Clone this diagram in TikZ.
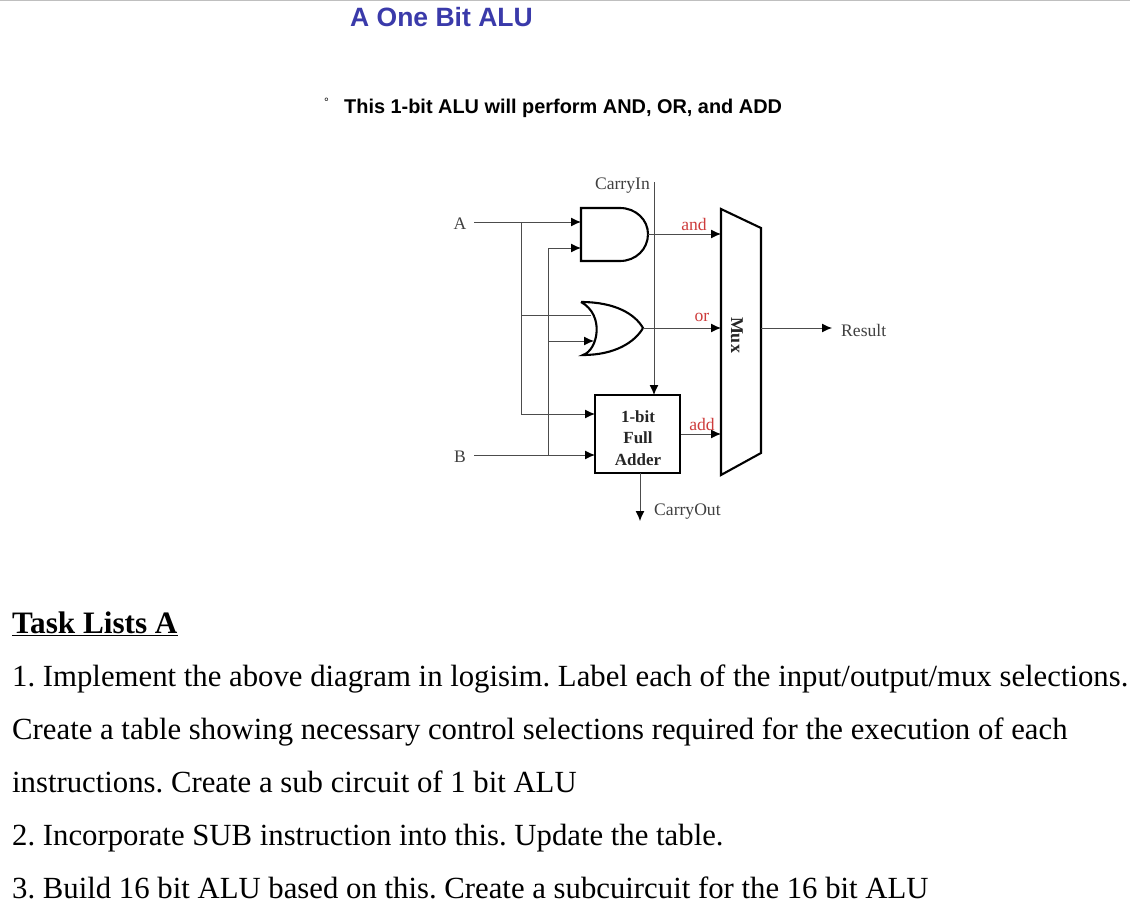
\documentclass[tikz,border=0pt]{standalone}
\usepackage{fontspec}
\setmainfont{Liberation Serif}
\newfontfamily\headfont{Liberation Sans}
\usetikzlibrary{arrows.meta}

\definecolor{headblue}{RGB}{58,58,170}
\definecolor{tagred}{RGB}{205,60,60}

\tikzset{
	wire/.style={draw=black!70, line width=1pt},
	feed/.style={wire, -{Latex[length=10pt,width=9pt,black]}},
	gate/.style={draw=black, line width=2.1pt},
	sig/.style={font=\fontsize{17.6}{17.6}\selectfont, text=black!75, inner sep=0pt},
	tag/.style={font=\fontsize{17.6}{17.6}\selectfont, text=tagred, inner sep=0pt},
	tasktext/.style={font=\fontsize{30.75}{30.75}\selectfont, anchor=base west, inner sep=0pt}
}

\begin{document}
\frenchspacing
\begin{tikzpicture}[x=1pt, y=-1pt]
	\useasboundingbox (0,0) rectangle (1130,908);
	\draw[black!25, line width=1pt] (0,0.5) -- (1130,0.5);

	\node[font=\headfont\bfseries\fontsize{26.5}{26.5}\selectfont, text=headblue, anchor=base west, inner sep=0pt] (title) at (350,26) {A One Bit ALU};
	\node[font=\headfont\fontsize{12}{12}\selectfont, anchor=base west, inner sep=0pt] (bullet) at (324,106) {\textdegree};
	\node[font=\headfont\bfseries\fontsize{19.9}{19.9}\selectfont, anchor=base west, inner sep=0pt] (intro) at (344,113) {This 1-bit ALU will perform AND, OR, and ADD};

	% gates
	\draw[gate] (581,208) -- (620,208) .. controls (636,208) and (648,220) .. (648,234) .. controls (648,249) and (636,261) .. (620,261) -- (581,261) -- cycle;
	\draw[gate] (581,302) .. controls (615,302) and (635,314) .. (643,328) .. controls (635,342) and (615,355) .. (583,355) .. controls (598,350) and (605,315) .. (581,302);
	\node[gate, minimum width=85pt, minimum height=78pt, inner sep=0pt] (adder) at (637.5,434) {};
	\node[font=\bfseries\fontsize{17}{21.5}\selectfont, text=black!85, align=center, inner sep=0pt] (addertext) at (638,438) {1-bit\\Full\\Adder};
	\draw[gate] (721,209) -- (761,228) -- (761,453) -- (721,475) -- cycle;
	\node[rotate=-90, font=\bfseries\fontsize{18}{18}\selectfont, text=black!85, inner sep=0pt] (mux) at (737,335) {Mux};

	\coordinate (andA) at (581,222);
	\coordinate (andB) at (581,248);
	\coordinate (andOut) at (648,234);
	\coordinate (orA) at (591,315);
	\coordinate (orB) at (594,341);
	\coordinate (orOut) at (643,328);
	\coordinate (muxAnd) at (721,234);
	\coordinate (muxOr) at (721,328);
	\coordinate (muxAdd) at (721,434);
	\coordinate (muxOut) at (761,328);
	\coordinate (resultEnd) at (832,328);
	\coordinate (carryTop) at (654,182);
	\coordinate (carryEnd) at (654,395);
	\coordinate (adderA) at (595,414);
	\coordinate (adderB) at (595,455);
	\coordinate (adderOut) at (640,473);
	\coordinate (adderDown) at (640,521);

	\node[sig] (inA) at (460,224) {A};
	\node[sig] (inB) at (460,457) {B};
	\node[sig, anchor=east] (carryin) at (650,186) {CarryIn};
	\node[sig, anchor=west] (carryout) at (654,512) {CarryOut};
	\node[sig, anchor=west] (result) at (841,330) {Result};
	\node[tag] (andtag) at (694,224) {and};
	\node[tag] (ortag) at (702,317) {or};
	\node[tag] (addtag) at (702,424) {add};

	% wires
	\coordinate (startA) at (474,222);
	\coordinate (startB) at (474,455);
	\coordinate (busA) at (521,222);
	\coordinate (busB) at (548,455);
	\draw[feed] (startA) -- (andA);
	\draw[feed] (busA) |- (adderA);
	\draw[feed] (startB) -- (adderB);
	\draw[feed] (busB) |- (andB);
	\draw[wire] (busA |- orA) -- (orA);
	\draw[feed] (busB |- orB) -- (orB);
	\draw[feed] (carryTop) -- (carryEnd);
	\draw[feed] (andOut) -- (muxAnd);
	\draw[feed] (orOut) -- (muxOr);
	\draw[feed] (adder.east |- muxAdd) -- (muxAdd);
	\draw[feed] (adderOut) -- (adderDown);
	\draw[feed] (muxOut) -- (resultEnd);

	% tasks
	\node[tasktext, font=\bfseries\fontsize{31.2}{31.2}\selectfont] (taskhead) at (12,633) {\underline{Task Lists A}};
	\node[tasktext] (task1) at (12,686) {1. Implement the above diagram in logisim. Label each of the input/output/mux selections.};
	\node[tasktext] (task1b) at (12,739) {Create a table showing necessary control selections required for the execution of each};
	\node[tasktext] (task1c) at (12,792) {instructions. Create a sub circuit of 1 bit ALU};
	\node[tasktext] (task2) at (12,845) {2. Incorporate SUB instruction into this. Update the table.};
	\node[tasktext] (task3) at (12,898) {3. Build 16 bit ALU based on this. Create a subcuircuit for the 16 bit ALU};
\end{tikzpicture}
\end{document}
